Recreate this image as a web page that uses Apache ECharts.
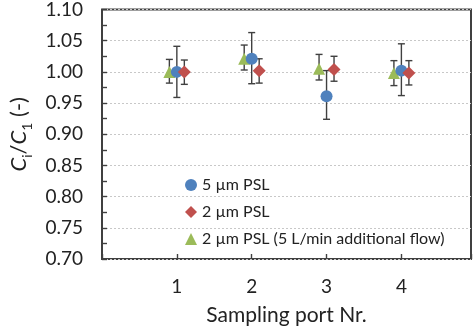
<!DOCTYPE html>
<html>
<head>
<meta charset="utf-8">
<script src="https://cdn.jsdelivr.net/npm/echarts@6/dist/echarts.min.js"></script>
<style>
  html, body { margin: 0; padding: 0; background: #fff; }
  #chart { width: 474px; height: 331px; }
</style>
</head>
<body>
<div id="chart"></div>
<script>
const ports = [1, 2, 3, 4]

// 5 µm PSL
const psl5 = [1.000, 1.021, 0.961, 1.002]
const psl5Low = [0.959, 0.981, 0.924, 0.962]
const psl5High = [1.041, 1.063, 1.002, 1.045]

// 2 µm PSL
const psl2 = [1.000, 1.002, 1.004, 0.998]
const psl2Low = [0.980, 0.982, 0.985, 0.979]
const psl2High = [1.019, 1.021, 1.025, 1.018]

// 2 µm PSL (5 L/min additional flow)
const psl2Flow = [1.000, 1.021, 1.005, 0.998]
const psl2FlowLow = [0.982, 1.003, 0.987, 0.978]
const psl2FlowHigh = [1.020, 1.043, 1.028, 1.018]

const seriesNames = ['5 µm PSL', '2 µm PSL', '2 µm PSL (5 L/min additional flow)']
const colors = ['#4F81BD', '#C0504D', '#9BBB59']

const FONT = 'Lato'
const chart = echarts.init(document.getElementById('chart'))

// 误差线
const errorSeries = (vals, lows, highs, offset) => ({
  type: 'custom',
  silent: true,
  z: 1,
  data: ports.map((p, i) => [p + offset, lows[i], highs[i]]),
  renderItem: (params, api) => {
    const lo = api.coord([api.value(0), api.value(1)])
    const hi = api.coord([api.value(0), api.value(2)])
    const w = 3.5
    const style = { stroke: '#404040', lineWidth: 1.4 }
    return {
      type: 'group',
      children: [
        { type: 'line', shape: { x1: lo[0], y1: lo[1], x2: hi[0], y2: hi[1] }, style },
        { type: 'line', shape: { x1: lo[0] - w, y1: lo[1], x2: lo[0] + w, y2: lo[1] }, style },
        { type: 'line', shape: { x1: hi[0] - w, y1: hi[1], x2: hi[0] + w, y2: hi[1] }, style }
      ]
    }
  }
})

const pointSeries = (name, vals, offset, symbol, size, color) => ({
  name,
  type: 'scatter',
  symbol,
  symbolSize: size,
  z: 3,
  itemStyle: { color, opacity: 1 },
  data: ports.map((p, i) => [p + offset, vals[i]])
})

chart.setOption({
  animation: false,
  textStyle: { fontFamily: FONT },
  grid: {
    left: 97, right: 1, top: 6, bottom: 69,
    show: true, borderColor: '#404040', borderWidth: 2
  },
  legend: {
    orient: 'vertical',
    left: 180, top: 172,
    itemGap: 11,
    itemWidth: 12, itemHeight: 12,
    textStyle: { fontFamily: FONT, fontSize: 16, color: '#222' },
    data: [
      { name: seriesNames[0], icon: 'circle' },
      { name: seriesNames[1], icon: 'diamond' },
      { name: seriesNames[2], icon: 'triangle' }
    ]
  },
  xAxis: {
    type: 'value',
    min: 0, max: 4.93, interval: 1,
    name: 'Sampling port Nr.',
    nameLocation: 'middle',
    nameGap: 46,
    nameTextStyle: { fontFamily: FONT, fontSize: 21, color: '#222' },
    axisLine: { show: false },
    axisTick: { show: true, inside: true, length: 5, lineStyle: { color: '#404040', width: 1.4 } },
    axisLabel: {
      fontFamily: FONT, fontSize: 19, color: '#222', margin: 18,
      formatter: v => (v >= 1 && v <= 4 && Number.isInteger(v)) ? String(v) : ''
    },
    splitLine: { show: false }
  },
  yAxis: {
    type: 'value',
    min: 0.70, max: 1.10, interval: 0.05,
    name: '{i|C}{s|i}{n|/}{i|C}{s|1}{n| (-)}',
    nameLocation: 'middle',
    nameGap: 72,
    nameTextStyle: {
      rich: {
        i: { fontFamily: FONT, fontSize: 22, fontStyle: 'italic', color: '#222', lineHeight: 28, verticalAlign: 'bottom' },
        s: { fontFamily: FONT, fontSize: 14, color: '#222', lineHeight: 28, verticalAlign: 'bottom', padding: [0, 0, -4, 0] },
        n: { fontFamily: FONT, fontSize: 22, color: '#222', lineHeight: 28, verticalAlign: 'bottom' }
      }
    },
    axisLine: { show: false },
    axisTick: { show: true, inside: true, length: 5, lineStyle: { color: '#404040', width: 1.4 } },
    minorTick: { show: true, splitNumber: 2, length: 5, lineStyle: { color: '#404040', width: 1.4 } },
    axisLabel: {
      fontFamily: FONT, fontSize: 19, color: '#222', margin: 19,
      formatter: v => v.toFixed(2)
    },
    splitLine: { show: true, lineStyle: { color: '#c8c8c8', type: [2, 2], width: 1 } }
  },
  series: [
    errorSeries(psl2Flow, psl2FlowLow, psl2FlowHigh, -0.1),
    errorSeries(psl5, psl5Low, psl5High, 0),
    errorSeries(psl2, psl2Low, psl2High, 0.1),
    pointSeries(seriesNames[2], psl2Flow, -0.1, 'triangle', 12, colors[2]),
    pointSeries(seriesNames[0], psl5, 0, 'circle', 12, colors[0]),
    pointSeries(seriesNames[1], psl2, 0.1, 'diamond', 13, colors[1])
  ]
})
</script>
</body>
</html>
